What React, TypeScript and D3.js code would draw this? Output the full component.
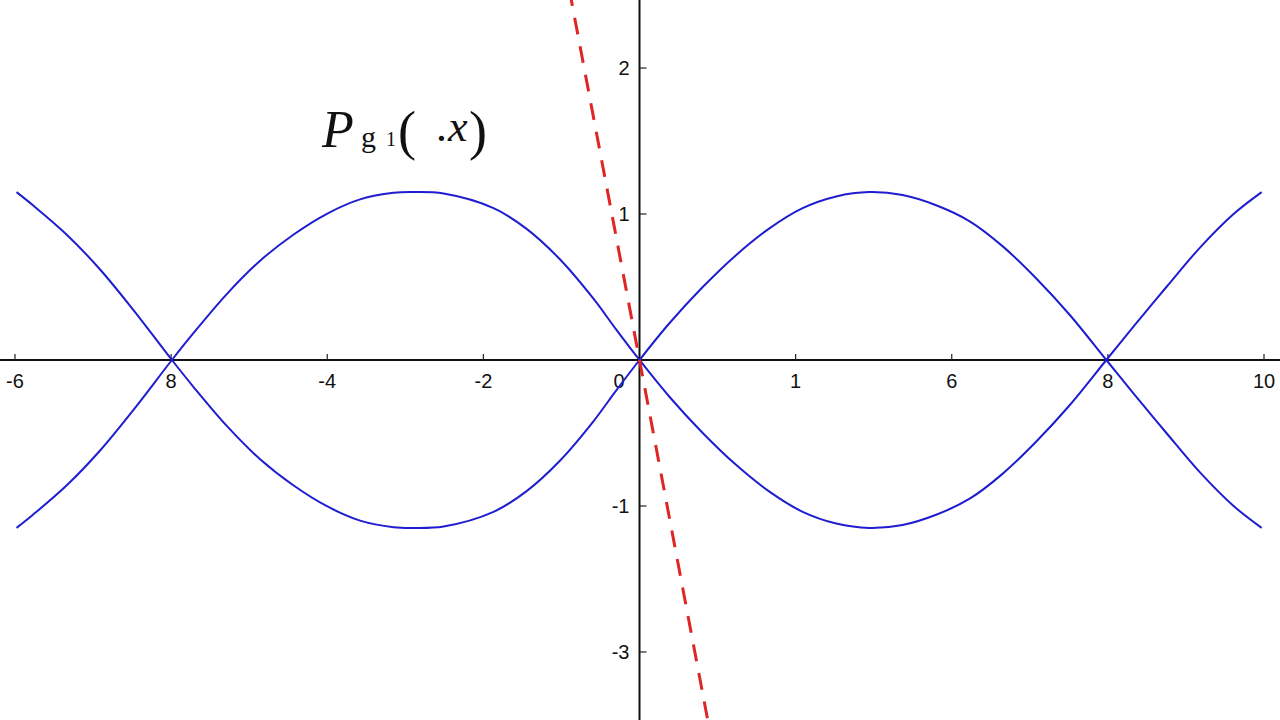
import * as d3 from 'd3'

const W = 1280
const H = 720

// axis ticks (labels as printed on the figure)
const xTickValues = [-8, -6, -4, -2, 0, 2, 4, 6, 8]
const xTickLabels = ['-6', '8', '-4', '-2', '0', '1', '6', '8', '10']
const yTickValues = [2, 1, -1, -2]
const yTickLabels = ['2', '1', '-1', '-3']

// two blue curves
const curveX = [
  -7.98, -7.77, -7.34, -6.91, -6.48, -5.99, -5.72, -5.29, -4.86, -4.43, -4.01,
  -3.58, -3.15, -2.9, -2.51, -1.87, -1.45, -1.02, -0.59, -0.3, 0, 0.38, 0.81,
  1.24, 1.66, 2.09, 2.52, 2.94, 3.37, 3.8, 4.23, 4.65, 5.08, 5.51, 5.98, 6.33,
  6.75, 7.18, 7.61, 7.97,
]
const curveA = [
  1.15, 1.06, 0.86, 0.62, 0.34, 0, -0.18, -0.45, -0.68, -0.86, -1.0, -1.1,
  -1.145, -1.15, -1.14, -1.04, -0.9, -0.69, -0.42, -0.21, 0, 0.25, 0.5, 0.72,
  0.9, 1.04, 1.12, 1.15, 1.13, 1.06, 0.95, 0.78, 0.56, 0.31, 0, -0.23, -0.5,
  -0.77, -1.0, -1.15,
]
const curveB = [
  -1.15, -1.06, -0.86, -0.62, -0.34, 0, 0.18, 0.45, 0.68, 0.86, 1.0, 1.1,
  1.145, 1.15, 1.14, 1.04, 0.9, 0.69, 0.42, 0.21, 0, -0.25, -0.5, -0.72, -0.9,
  -1.04, -1.12, -1.15, -1.13, -1.06, -0.95, -0.78, -0.56, -0.31, 0, 0.23, 0.5,
  0.77, 1.0, 1.15,
]

// red dashed tangent through the origin
const tangentX = [-0.9, 0.9]
const tangentY = [2.54, -2.54]

function App() {
  const xScale = d3.scaleLinear().domain([-8, 8]).range([15, 1264])
  const yScale = d3.scaleLinear().domain([-2.466, 2.466]).range([H, 0])

  const line = d3
    .line<[number, number]>()
    .x((d) => xScale(d[0]))
    .y((d) => yScale(d[1]))
    .curve(d3.curveCatmullRom.alpha(0.5))

  const straight = d3
    .line<[number, number]>()
    .x((d) => xScale(d[0]))
    .y((d) => yScale(d[1]))

  const ptsA = curveX.map((x, i) => [x, curveA[i]] as [number, number])
  const ptsB = curveX.map((x, i) => [x, curveB[i]] as [number, number])
  const ptsT = tangentX.map((x, i) => [x, tangentY[i]] as [number, number])

  const x0 = xScale(0)
  const y0 = yScale(0)
  const axisFont = '"Liberation Sans", Arial, sans-serif'
  const serif = '"Liberation Serif", "DejaVu Serif", serif'

  return (
    <svg
      width={W}
      height={H}
      style={{ position: 'absolute', left: 0, top: 0, background: '#ffffff' }}
    >
      {/* x axis */}
      <line x1={0} x2={W} y1={y0} y2={y0} stroke="#111" strokeWidth={2} />
      {xTickValues.map((v, i) => (
        <g key={'xt' + i}>
          <line
            x1={xScale(v)}
            x2={xScale(v)}
            y1={y0}
            y2={y0 - 6}
            stroke="#222"
            strokeWidth={1.2}
          />
          <text
            x={v === 0 ? x0 - 15 : xScale(v)}
            y={y0 + 28}
            textAnchor={v === 0 ? 'end' : 'middle'}
            fontFamily={axisFont}
            fontSize={20}
            fill="#111"
          >
            {xTickLabels[i]}
          </text>
        </g>
      ))}

      {/* y axis */}
      <line x1={x0} x2={x0} y1={0} y2={H} stroke="#111" strokeWidth={2} />
      {yTickValues.map((v, i) => (
        <g key={'yt' + i}>
          <line
            x1={x0}
            x2={x0 + 7}
            y1={yScale(v)}
            y2={yScale(v)}
            stroke="#222"
            strokeWidth={1.2}
          />
          <text
            x={x0 - 10}
            y={yScale(v) + 7}
            textAnchor="end"
            fontFamily={axisFont}
            fontSize={20}
            fill="#111"
          >
            {yTickLabels[i]}
          </text>
        </g>
      ))}

      {/* curves */}
      <path d={line(ptsA) || ''} fill="none" stroke="#1e1ed0" strokeWidth={2} />
      <path d={line(ptsB) || ''} fill="none" stroke="#1e1ed0" strokeWidth={2} />
      <path
        d={straight(ptsT) || ''}
        fill="none"
        stroke="#e02525"
        strokeWidth={3}
        strokeDasharray="17,12"
      />

      {/* title */}
      <g fill="#111" fontFamily={serif}>
        <text x={322} y={147} fontSize={52} fontStyle="italic">
          P
        </text>
        <text x={361} y={147} fontSize={30}>
          g
        </text>
        <text x={386} y={146} fontSize={20}>
          1
        </text>
        <text x={398} y={149} fontSize={54}>
          (
        </text>
        <text x={437} y={141} fontSize={44} fontStyle="italic">
          .x
        </text>
        <text x={469} y={149} fontSize={54}>
          )
        </text>
      </g>
    </svg>
  )
}

export default App
